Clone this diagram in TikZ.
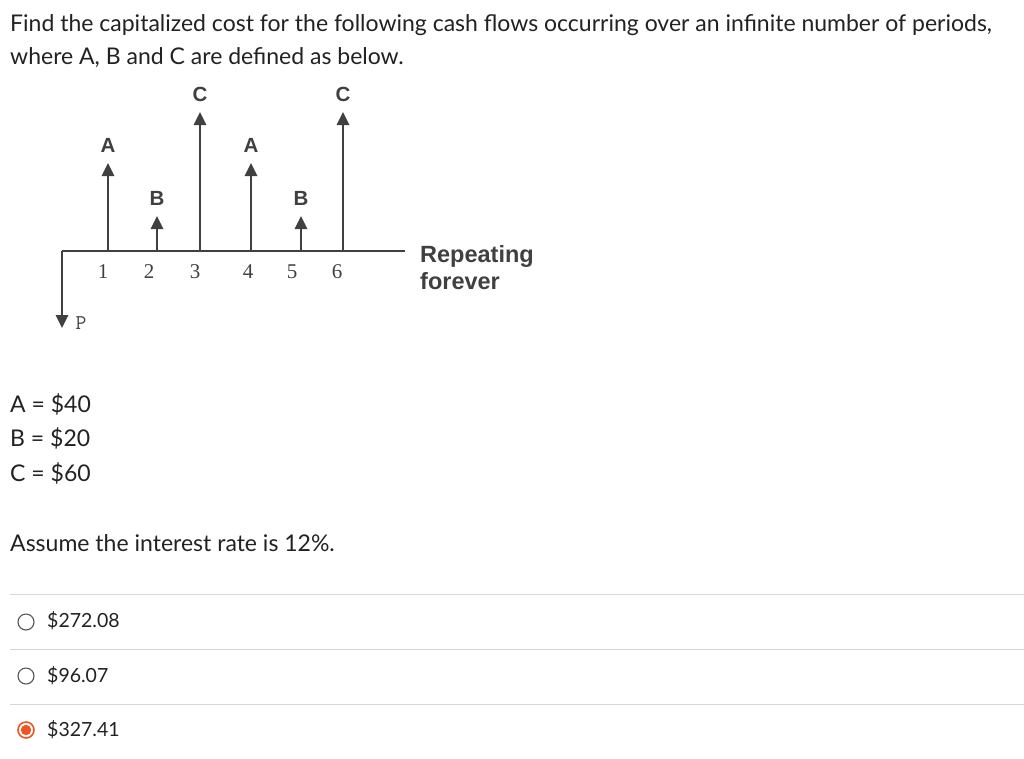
\documentclass[tikz,border=0pt]{standalone}
\usepackage{fontspec}
\setmainfont{Lato}
\newfontfamily\arialf{Liberation Sans}
\newfontfamily\timesf{Liberation Serif}
\usetikzlibrary{arrows.meta}
\definecolor{txt}{HTML}{222222}
\definecolor{dg}{HTML}{404040}
\definecolor{sep}{HTML}{D6D6D6}
\definecolor{rad}{HTML}{555555}
\definecolor{sel}{HTML}{EE5522}
\tikzset{
  flow/.style={draw=dg, line width=2.8pt, -{Triangle[width=12pt,length=13pt]}},
  lbl/.style={font=\arialf\bfseries\fontsize{20.5}{20.5}\selectfont, text=dg, inner sep=0pt},
  num/.style={font=\timesf\fontsize{21}{21}\selectfont, text=dg, inner sep=0pt},
  q/.style={font=\fontsize{23}{23}\selectfont, text=txt, inner sep=0pt, anchor=base west},
  opt/.style={font=\fontsize{19.5}{19.5}\selectfont, text=txt, inner sep=0pt, anchor=base west},
  rep/.style={font=\arialf\bfseries\fontsize{23.5}{23.5}\selectfont, text=dg, inner sep=0pt, anchor=base west},
  seprule/.style={draw=sep, line width=1pt},
  radio/.style={draw=rad, line width=1.1pt, circle, minimum size=16pt, inner sep=0pt},
}
\begin{document}
\begin{tikzpicture}[x=1pt,y=-1pt]
\useasboundingbox[fill=white] (0,0) rectangle (1024,758);
% question text
\node[q] (t1) at (10,31) {Find the capitalized cost for the following cash flows occurring over an infinite number of periods,};
\node[q] (t2) at (10,64) {where A, B and C are defined as below.};
% time line
\coordinate (o) at (62,251);
\coordinate (e) at (405,251);
\draw[dg, line width=2.4pt] (o) -- (e);
\coordinate (pt) at (62,328);
\draw[flow] (o) -- (pt);
\node[font=\ttfamily\fontsize{21}{21}\selectfont, text=dg, inner sep=0pt] (P) at (81,323) {P};
% flows
\foreach \n/\x/\top/\l in {1/108/163/A, 2/157/216/B, 3/200/112/C, 4/251/163/A, 5/301/216/B, 6/343/112/C}{
  \coordinate (b\n) at (\x,251);
  \coordinate (t\n) at (\x,\top);
  \draw[flow] (b\n) -- (t\n);
  \node[lbl] (l\n) at (\x,\top-18) {\l};
}
\foreach \n/\x in {1/103,2/149,3/195,4/248,5/292,6/337}{
  \node[num] (n\n) at (\x,272) {\n};
}
\node[rep] (rep) at (420,262) {Repeating};
\node[rep] (fore) at (420,289) {forever};
% definitions
\node[q] (da) at (10,412) {A = \$40};
\node[q] (db) at (10,446) {B = \$20};
\node[q] (dc) at (10,481) {C = \$60};
\node[q] (as) at (10,551) {Assume the interest rate is 12\%.};
% options
\coordinate (s1a) at (10,594); \coordinate (s1b) at (1024,594);
\coordinate (s2a) at (10,649); \coordinate (s2b) at (1024,649);
\coordinate (s3a) at (10,704); \coordinate (s3b) at (1024,704);
\draw[seprule] (s1a) -- (s1b);
\draw[seprule] (s2a) -- (s2b);
\draw[seprule] (s3a) -- (s3b);
\node[radio] (r1) at (26,622) {};
\node[radio] (r2) at (26,676) {};
\node[radio, draw=sel, line width=1.6pt] (r3) at (26,730) {};
\fill[sel] (r3.center) circle (5.2pt);
\node[opt] (o1) at (47,627) {\$272.08};
\node[opt] (o2) at (47,682) {\$96.07};
\node[opt] (o3) at (47,736) {\$327.41};
\end{tikzpicture}
\end{document}
